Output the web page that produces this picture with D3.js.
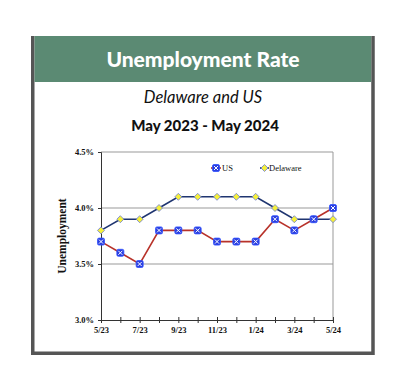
<!DOCTYPE html>
<html>
<head>
<meta charset="utf-8">
<script src="https://cdn.jsdelivr.net/npm/d3@7"></script>
<style>
  body { margin: 0; background: #fff; }
</style>
</head>
<body>
<div id="chart"></div>
<script>
// data: monthly unemployment rate, May 2023 - May 2024
var months = ["5/23","6/23","7/23","8/23","9/23","10/23","11/23","12/23","1/24","2/24","3/24","4/24","5/24"];
var usRate = [3.7, 3.6, 3.5, 3.8, 3.8, 3.8, 3.7, 3.7, 3.7, 3.9, 3.8, 3.9, 4.0];
var delawareRate = [3.8, 3.9, 3.9, 4.0, 4.1, 4.1, 4.1, 4.1, 4.1, 4.0, 3.9, 3.9, 3.9];
var yTicks = [3.0, 3.5, 4.0, 4.5];
var xLabelMonths = ["5/23","7/23","9/23","11/23","1/24","3/24","5/24"];

var W = 400, H = 375;
var svg = d3.select("#chart").append("svg")
    .attr("width", W).attr("height", H);

// card frame (no top edge, header sits there)
svg.append("path")
    .attr("d", "M32.75,36V353.25H373V36")
    .attr("fill", "#fff").attr("stroke", "#555").attr("stroke-width", 3.5);
svg.append("rect")
    .attr("x", 34.5).attr("y", 36).attr("width", 336.7).attr("height", 46)
    .attr("fill", "#5b8a73");

svg.append("text")
    .attr("x", 203).attr("y", 67).attr("text-anchor", "middle")
    .attr("fill", "#fff").style("font-family", "Lato").style("font-weight", 900)
    .style("font-size", "21px").text("Unemployment Rate");
svg.append("text")
    .attr("x", 203).attr("y", 103).attr("text-anchor", "middle")
    .attr("fill", "#111").style("font-family", "Lato").style("font-style", "italic")
    .style("font-size", "16.5px").text("Delaware and US");
svg.append("text")
    .attr("x", 205).attr("y", 131).attr("text-anchor", "middle")
    .attr("fill", "#111").style("font-family", "Lato").style("font-weight", 900)
    .style("font-size", "15px").text("May 2023 - May 2024");

// plot area
var margin = {left: 101, top: 152, right: 333, bottom: 320};
var x = d3.scalePoint().domain(months).range([margin.left, margin.right]);
var y = d3.scaleLinear().domain([3.0, 4.5]).range([margin.bottom, margin.top]);

var serif = "'Liberation Serif', 'Times New Roman', serif";

// gridlines
svg.append("g").selectAll("line").data(yTicks.slice(1))
  .enter().append("line")
    .attr("x1", margin.left).attr("x2", margin.right)
    .attr("y1", function(d){ return y(d); }).attr("y2", function(d){ return y(d); })
    .attr("stroke", "#999").attr("stroke-width", 1);
// right border
svg.append("line")
    .attr("x1", margin.right).attr("x2", margin.right)
    .attr("y1", margin.top).attr("y2", margin.bottom)
    .attr("stroke", "#999");

// y axis
var yAxis = svg.append("g")
    .attr("transform", "translate(" + margin.left + ",0)")
    .call(d3.axisLeft(y).tickValues(yTicks).tickSize(3).tickPadding(4)
        .tickFormat(function(d){ return d.toFixed(1) + "%"; }));
yAxis.select(".domain").attr("stroke", "#333");
yAxis.selectAll("line").attr("stroke", "#333");
yAxis.selectAll("text").style("font-family", serif).style("font-weight", "bold")
    .style("font-size", "8.5px").attr("fill", "#111");

// x axis
var xAxis = svg.append("g")
    .attr("transform", "translate(0," + margin.bottom + ")")
    .call(d3.axisBottom(x).tickSizeInner(3).tickSizeOuter(0).tickPadding(4)
        .tickFormat(function(d){ return xLabelMonths.indexOf(d) >= 0 ? d : ""; }));
xAxis.select(".domain").attr("stroke", "#333");
xAxis.selectAll("line").attr("stroke", "#333").attr("y1", -3).attr("y2", 3);
xAxis.selectAll("text").style("font-family", serif).style("font-weight", "bold")
    .style("font-size", "8.5px").attr("fill", "#111");

svg.append("text")
    .attr("transform", "translate(66,236) rotate(-90)")
    .attr("text-anchor", "middle")
    .style("font-family", serif).style("font-weight", "bold").style("font-size", "11.5px")
    .attr("fill", "#111").text("Unemployment");

var line = d3.line()
    .x(function(d, i){ return x(months[i]); })
    .y(function(d){ return y(d); });

svg.append("path").datum(delawareRate)
    .attr("d", line).attr("fill", "none").attr("stroke", "#1f3570").attr("stroke-width", 1.6);
svg.append("path").datum(usRate)
    .attr("d", line).attr("fill", "none").attr("stroke", "#b8322a").attr("stroke-width", 1.6);

function usMarker(g) {
  g.append("rect").attr("x", -3.5).attr("y", -3.5).attr("width", 7).attr("height", 7)
      .attr("rx", 1.5).attr("fill", "#2b3fe0").attr("stroke", "#3050ff").attr("stroke-width", 0.8);
  g.append("path").attr("d", "M-2,-2L2,2M-2,2L2,-2").attr("stroke", "#fff").attr("stroke-width", 1);
}
function deMarker(g) {
  g.append("path").attr("d", "M0,-3.5L3.5,0L0,3.5L-3.5,0Z")
      .attr("fill", "#f5f03a").attr("stroke", "#6a7ad8").attr("stroke-width", 0.8);
}

svg.append("g").selectAll("g").data(delawareRate).enter().append("g")
    .attr("transform", function(d, i){ return "translate(" + x(months[i]) + "," + y(d) + ")"; })
    .each(function(){ deMarker(d3.select(this)); });
svg.append("g").selectAll("g").data(usRate).enter().append("g")
    .attr("transform", function(d, i){ return "translate(" + x(months[i]) + "," + y(d) + ")"; })
    .each(function(){ usMarker(d3.select(this)); });

// legend
var leg = svg.append("g").attr("transform", "translate(0,168)");
leg.append("line").attr("x1", 211).attr("x2", 221).attr("stroke", "#b8322a").attr("stroke-width", 1.6);
usMarker(leg.append("g").attr("transform", "translate(216,0)"));
leg.append("text").attr("x", 222).attr("y", 3).style("font-family", serif)
    .style("font-size", "8.5px").attr("fill", "#111").text("US");
leg.append("line").attr("x1", 260).attr("x2", 269).attr("stroke", "#1f3570").attr("stroke-width", 1.6);
deMarker(leg.append("g").attr("transform", "translate(264.5,0)"));
leg.append("text").attr("x", 269).attr("y", 3).style("font-family", serif)
    .style("font-size", "8.5px").attr("fill", "#111").text("Delaware");
</script>
</body>
</html>
